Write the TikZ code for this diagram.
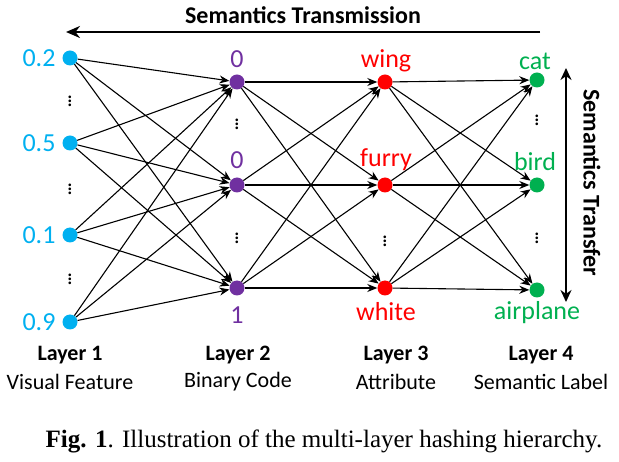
\documentclass[tikz,border=0pt]{standalone}
\usepackage{fontspec}
\usetikzlibrary{arrows.meta}
\setmainfont{Liberation Serif}
\newfontfamily\calfnt{Carlito}
\definecolor{cy}{RGB}{0,176,240}
\definecolor{pu}{RGB}{112,48,160}
\definecolor{gr}{RGB}{0,176,80}
\definecolor{rd}{RGB}{255,0,0}
\begin{document}
\begin{tikzpicture}[x=1pt,y=-1pt,
 dot/.style={circle,inner sep=0pt,minimum size=15pt},
 lab/.style={font=\calfnt\fontsize{26}{26}\selectfont},
 vd/.style={font=\calfnt\fontsize{22}{22}\selectfont,inner sep=0pt},
 ed/.style={-{Stealth[length=10pt,width=8pt]},line width=1.1pt},
 lay/.style={font=\calfnt\bfseries\fontsize{22}{22}\selectfont},
 dsc/.style={font=\calfnt\fontsize{22}{22}\selectfont}]
\useasboundingbox (0,0) rectangle (619,462);
\foreach \n/\y/\t in {1/58/0.2,2/143/0.5,3/235/0.1,4/322/0.9}{
 \node[dot,fill=cy] (a\n) at (70,\y) {};
 \node[lab,text=cy] (ta\n) at (39,\y) {\t};}
\foreach \y in {98,186,276}{\node[vd] at (70,\y) {\vdots};}
\foreach \n/\y in {1/82,2/185,3/288}{
 \node[dot,fill=pu] (b\n) at (237,\y) {};
 \node[dot,fill=rd] (c\n) at (385,\y) {};}
\node[dot,fill=gr] (d1) at (537,80) {};
\node[dot,fill=gr] (d2) at (537,185) {};
\node[dot,fill=gr] (d3) at (537,290) {};
\node[lab,text=pu] at (237,59) {0};
\node[lab,text=pu] at (237,160) {0};
\node[lab,text=pu] at (237,315) {1};
\node[lab,text=rd] at (386,61) {wing};
\node[lab,text=rd] at (386,160) {furry};
\node[lab,text=rd] at (386,312) {white};
\node[lab,text=gr] at (535,61) {cat};
\node[lab,text=gr] at (535,162) {bird};
\node[lab,text=gr] at (537,313) {airplane};
\foreach \y in {121,235}{\node[vd] at (237,\y) {\vdots};}
\node[vd] at (385,238) {\vdots};
\foreach \y in {117,235}{\node[vd] at (537,\y) {\vdots};}
\foreach \i in {1,...,4}{\foreach \j in {1,2,3}{\draw[ed] (a\i) -- (b\j);}}
\foreach \i in {1,2,3}{\foreach \j in {1,2,3}{\draw[ed] (b\i) -- (c\j); \draw[ed] (c\i) -- (d\j);}}
\coordinate (t1) at (540,32); \coordinate (t2) at (66,32);
\draw[-{Stealth[length=14pt,width=12pt]},line width=2.5pt] (t1) -- (t2);
\node[font=\calfnt\bfseries\fontsize{24}{24}\selectfont] at (303,15) {Semantics Transmission};
\coordinate (s1) at (566,68); \coordinate (s2) at (566,302);
\draw[{Stealth[length=12pt,width=11pt]}-{Stealth[length=12pt,width=11pt]},line width=2.5pt] (s1) -- (s2);
\node[font=\calfnt\bfseries\fontsize{24}{24}\selectfont,rotate=-90] at (592,183) {Semantics Transfer};
\foreach \x/\a/\b in {70/Layer 1/Visual Feature,238/Layer 2/Binary Code,396/Layer 3/Attribute,541/Layer 4/Semantic Label}{
 \node[lay] at (\x,355) {\a}; \node[dsc] at (\x,382) {\b};}
\node[font=\fontsize{25}{25}\selectfont] at (324,441) {\textbf{Fig. 1}. Illustration of the multi-layer hashing hierarchy.};
\end{tikzpicture}
\end{document}
